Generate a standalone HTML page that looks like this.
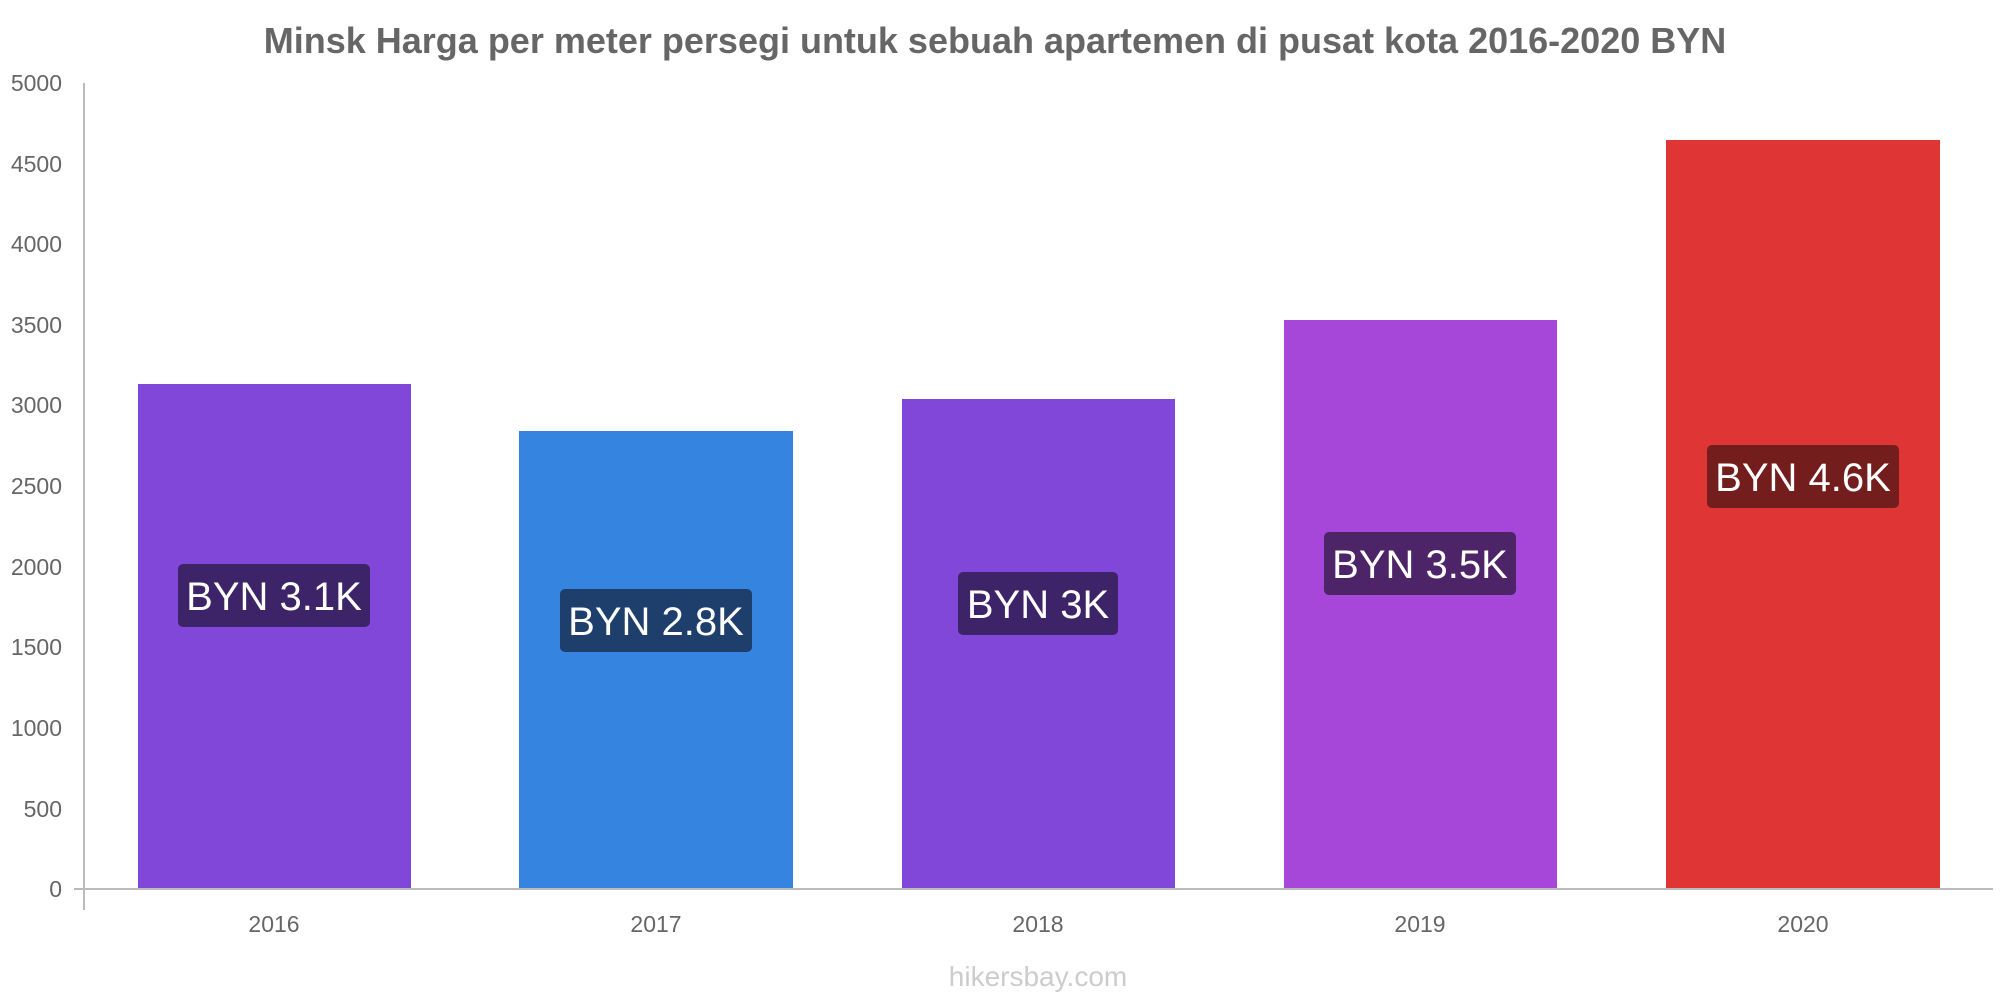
<!DOCTYPE html>
<html><head><meta charset="utf-8"><style>body{margin:0;background:#fff}svg{display:block}</style></head><body>
<svg width="2000" height="1000" xmlns="http://www.w3.org/2000/svg" font-family="Liberation Sans, sans-serif">
<text x="995" y="53" text-anchor="middle" font-size="36" font-weight="bold" fill="#666">Minsk Harga per meter persegi untuk sebuah apartemen di pusat kota 2016-2020 BYN</text>
<g fill="#666" font-size="23" text-anchor="end">
<text x="62" y="897">0</text><text x="62" y="817">500</text><text x="62" y="736">1000</text><text x="62" y="655">1500</text><text x="62" y="575">2000</text><text x="62" y="494">2500</text><text x="62" y="413">3000</text><text x="62" y="333">3500</text><text x="62" y="252">4000</text><text x="62" y="172">4500</text><text x="62" y="91">5000</text>
</g>
<rect x="138" y="384" width="273" height="505" fill="#8047d9"/>
<rect x="519" y="431" width="274" height="458" fill="#3584e0"/>
<rect x="902" y="399" width="273" height="490" fill="#8047d9"/>
<rect x="1284" y="320" width="273" height="569" fill="#a647d9"/>
<rect x="1666" y="140" width="274" height="749" fill="#e03535"/>
<line x1="84" y1="83" x2="84" y2="910" stroke="#bbb" stroke-width="2"/>
<line x1="74" y1="889" x2="1993" y2="889" stroke="#bbb" stroke-width="2"/>
<g font-size="40" fill="#fff" text-anchor="middle">
<rect x="178" y="564" width="192" height="63" rx="5" fill="#3d2469"/><text x="274" y="610">BYN 3.1K</text>
<rect x="560" y="589" width="192" height="63" rx="5" fill="#1e3f6b"/><text x="656" y="635">BYN 2.8K</text>
<rect x="958" y="572" width="160" height="63" rx="5" fill="#3d2469"/><text x="1038" y="618">BYN 3K</text>
<rect x="1324" y="532" width="192" height="63" rx="5" fill="#4e2469"/><text x="1420" y="578">BYN 3.5K</text>
<rect x="1707" y="445" width="192" height="63" rx="5" fill="#731d1d"/><text x="1803" y="491">BYN 4.6K</text>
</g>
<g font-size="23" fill="#666" text-anchor="middle">
<text x="274" y="932">2016</text><text x="656" y="932">2017</text><text x="1038" y="932">2018</text><text x="1420" y="932">2019</text><text x="1803" y="932">2020</text>
</g>
<text x="1038" y="986" text-anchor="middle" font-size="28" fill="#ccc">hikersbay.com</text>
</svg>
</body></html>
